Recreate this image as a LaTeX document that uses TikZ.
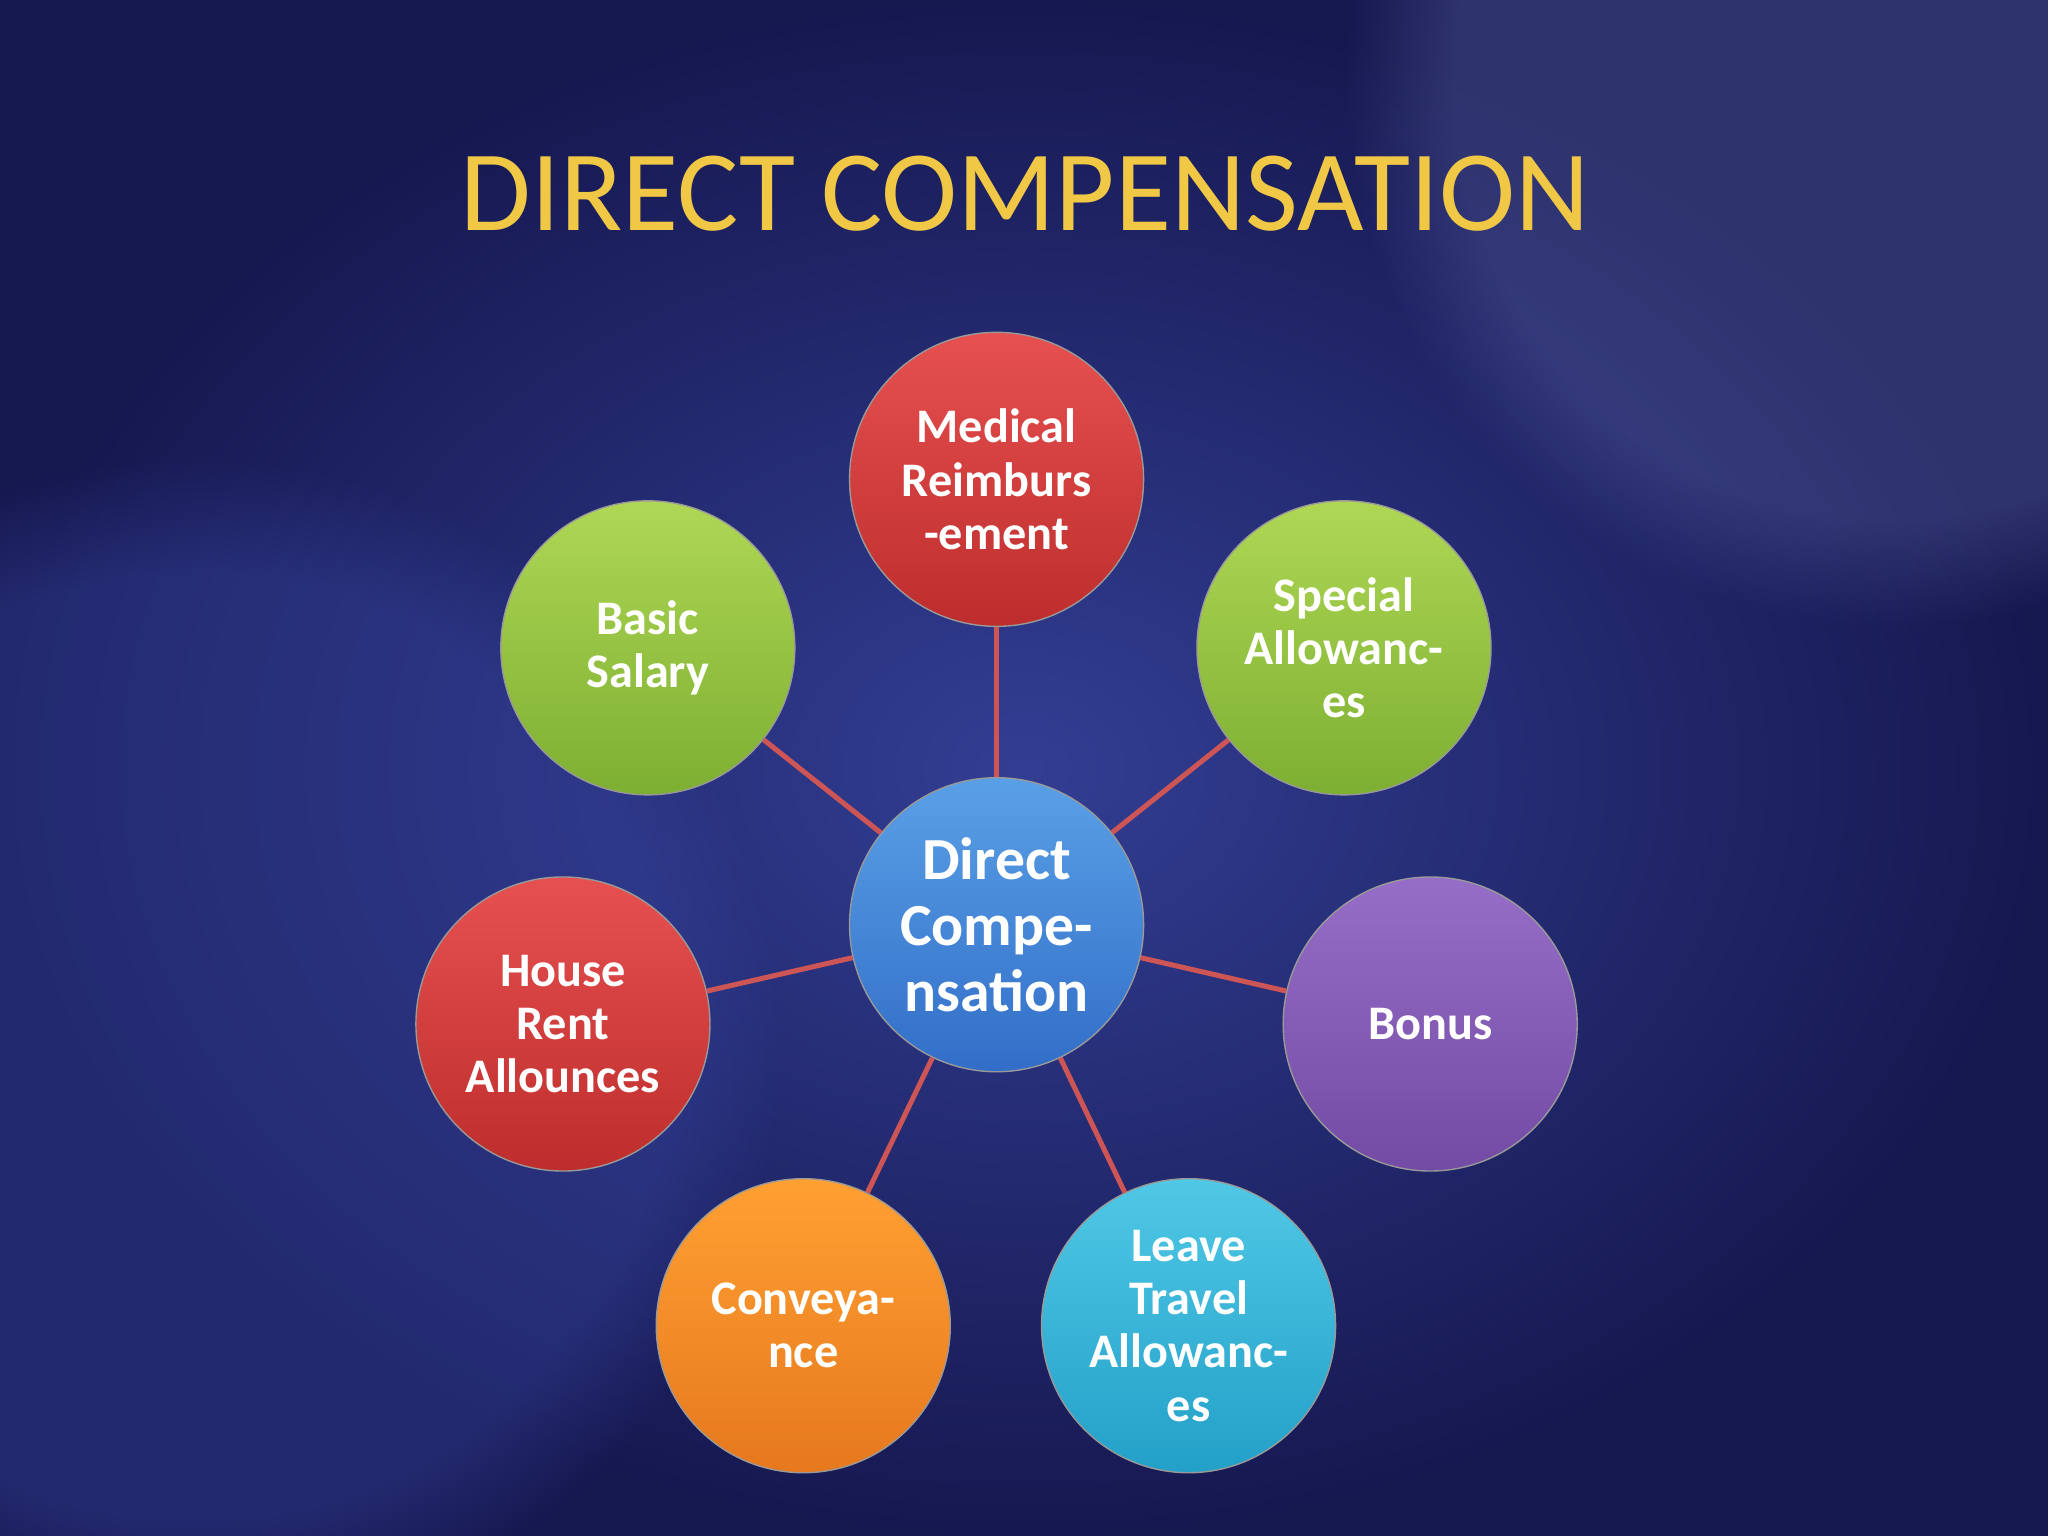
\documentclass[tikz,border=0pt]{standalone}
\usepackage{fontspec}
\setmainfont{Carlito}
\usetikzlibrary{fadings}
\begin{document}
\begin{tikzpicture}[x=0.01cm,y=-0.01cm,
  ball/.style={circle,minimum size=2.25cm,inner sep=0pt,align=center,text=white,font=\fontsize{10.5}{11.6}\selectfont\bfseries,draw=black!40,line width=0.3pt},
  link/.style={draw={rgb,255:red,205;green,85;blue,85},line width=1.1pt}]
\definecolor{bgA}{RGB}{22,24,80}
\definecolor{bgB}{RGB}{60,75,170}
\definecolor{gold}{RGB}{240,200,70}
\useasboundingbox (0,0) rectangle (1568,1176);
\shade[inner color=bgB!75!bgA,outer color=bgA] (0,0) rectangle (1568,1176);
\fill[bgB!70!white,path fading=circle with fuzzy edge 20 percent,opacity=0.25] (1450,60) circle (420);
\fill[bgB,path fading=circle with fuzzy edge 20 percent,opacity=0.35] (150,800) circle (450);
\node[font=\fontsize{25}{28}\selectfont,text=gold] (title) at (785,148) {DIRECT COMPENSATION};
\node[ball,top color={rgb,255:red,90;green,160;blue,230},bottom color={rgb,255:red,50;green,110;blue,200},font=\fontsize{13}{14.3}\selectfont\bfseries] (c) at (763,708) {Direct\\Compe-\\nsation};
\node[ball,top color={rgb,255:red,230;green,80;blue,80},bottom color={rgb,255:red,190;green,45;blue,45}] (med) at (763,367) {Medical\\Reimburs\\-ement};
\node[ball,top color={rgb,255:red,175;green,215;blue,85},bottom color={rgb,255:red,125;green,175;blue,50}] (bas) at (496,496) {Basic\\Salary};
\node[ball,top color={rgb,255:red,175;green,215;blue,85},bottom color={rgb,255:red,125;green,175;blue,50}] (spe) at (1029,496) {Special\\Allowanc-\\es};
\node[ball,top color={rgb,255:red,230;green,80;blue,80},bottom color={rgb,255:red,190;green,45;blue,45}] (hou) at (431,784) {House\\Rent\\Allounces};
\node[ball,top color={rgb,255:red,150;green,110;blue,200},bottom color={rgb,255:red,115;green,75;blue,165}] (bon) at (1095,784) {Bonus};
\node[ball,top color={rgb,255:red,255;green,160;blue,50},bottom color={rgb,255:red,230;green,120;blue,30}] (con) at (615,1015) {Conveya-\\nce};
\node[ball,top color={rgb,255:red,80;green,200;blue,230},bottom color={rgb,255:red,35;green,160;blue,200}] (lea) at (910,1015) {Leave\\Travel\\Allowanc-\\es};
\foreach \n in {med,bas,spe,hou,bon,con,lea}{\draw[link] (c) -- (\n);}
\end{tikzpicture}
\end{document}
